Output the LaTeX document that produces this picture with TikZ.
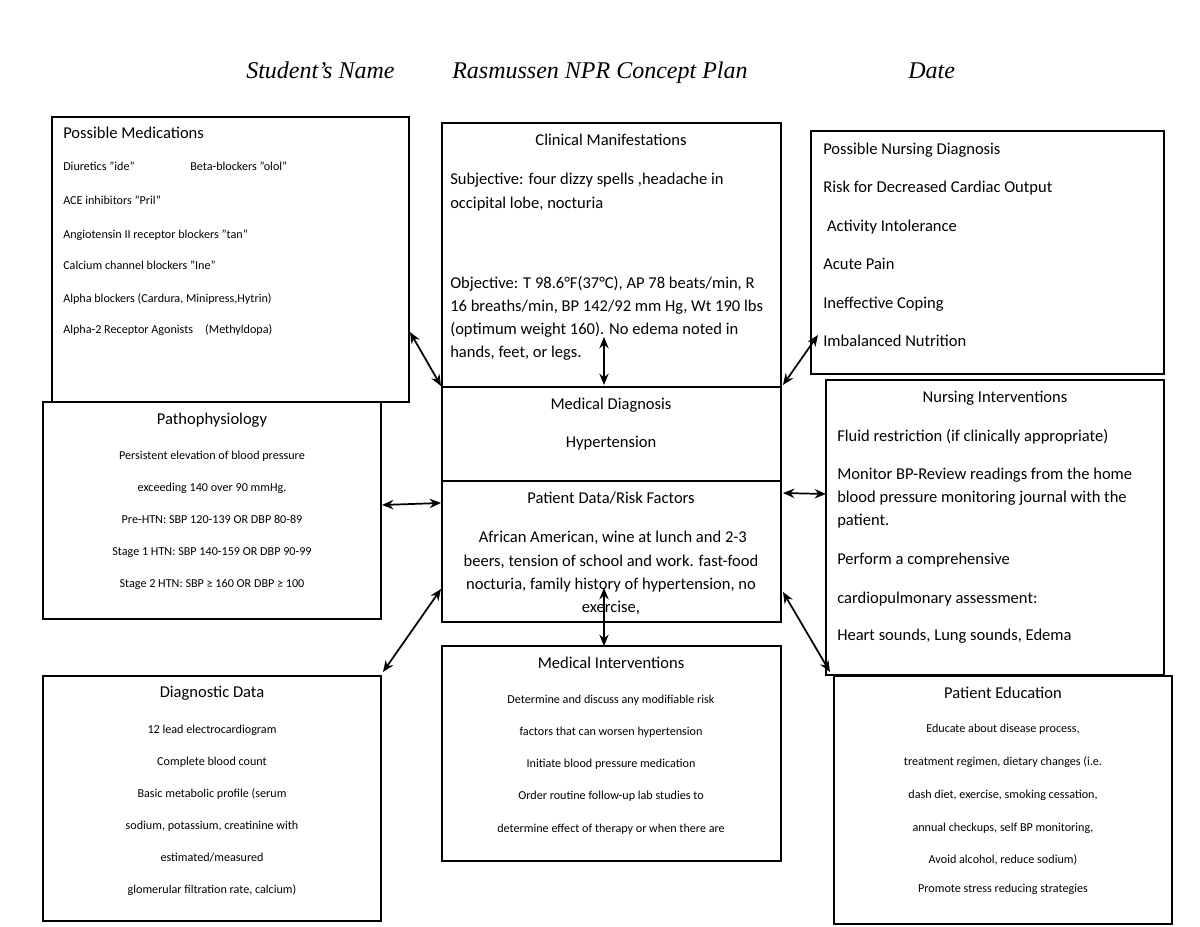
\documentclass[tikz,border=0pt]{standalone}
\usepackage{fontspec}
\setmainfont{Carlito}
\newfontfamily\headfont{Liberation Serif}
\usetikzlibrary{fit,arrows.meta}
\begin{document}
\begin{tikzpicture}[x=0.75pt,y=-0.75pt,
  box/.style={draw,line width=1.4pt,inner sep=0pt},
  txt/.style={inner sep=0pt,yshift=-1.6pt},
  ttl/.style={txt,font=\fontsize{12.4}{14}\selectfont,anchor=mid},
  bdl/.style={txt,font=\fontsize{12.4}{14}\selectfont,anchor=mid west},
  bdc/.style={txt,font=\fontsize{12.4}{14}\selectfont,anchor=mid},
  sml/.style={txt,font=\fontsize{9.1}{10}\selectfont,anchor=mid west},
  smc/.style={txt,font=\fontsize{9.1}{10}\selectfont,anchor=mid},
  hd/.style={inner sep=0pt,yshift=-3pt,font=\headfont\itshape\fontsize{18}{20}\selectfont,anchor=mid west},
  link/.style={line width=1.3pt,{Stealth[length=8.5pt,width=7pt]}-{Stealth[length=8.5pt,width=7pt]}}]
\useasboundingbox (0,0) rectangle (1200,927);
\fill[white] (0,0) rectangle (1200,927);

% header
\node[hd] (h1) at (246,71) {Student’s Name};
\node[hd] (h2) at (452,71) {Rasmussen NPR Concept Plan};
\node[hd] (h3) at (908,71) {Date};

% boxes
\node[box,fit={(52,117)(409,402)}] (meds) {};
\node[box,fit={(43,402)(381,619)}] (patho) {};
\node[box,fit={(43,676)(381,921)}] (diag) {};
\node[box,fit={(442,123)(781,387)}] (clin) {};
\node[box,fit={(442,387)(781,481)}] (mdx) {};
\node[box,fit={(442,481)(781,622)}] (pdata) {};
\node[box,fit={(442,646)(781,861)}] (mint) {};
\node[box,fit={(811,131)(1164,374)}] (ndx) {};
\node[box,fit={(826,380)(1164,675)}] (nint) {};
\node[box,fit={(834,676)(1172,924)}] (ped) {};

% Possible Medications
\node[bdl] (m0) at (63,133) {Possible Medications};
\node[sml] (m1) at (63,165) {Diuretics "ide”};
\node[sml] (m1b) at (190,165) {Beta-blockers "olol”};
\node[sml] (m2) at (63,199) {ACE inhibitors "Pril”};
\node[sml] (m3) at (63,233) {Angiotensin II receptor blockers "tan”};
\node[sml] (m4) at (63,264) {Calcium channel blockers "Ine”};
\node[sml] (m5) at (63,297) {Alpha blockers (Cardura, Minipress,Hytrin)};
\node[sml] (m6) at (63,328) {Alpha-2 Receptor Agonists\quad(Methyldopa)};

% Pathophysiology
\node[ttl] (p0) at (212,419) {Pathophysiology};
\node[smc] (p1) at (212,454) {Persistent elevation of blood pressure};
\node[smc] (p2) at (212,486) {exceeding 140 over 90 mmHg.};
\node[smc] (p3) at (212,518) {Pre-HTN: SBP 120-139 OR DBP 80-89};
\node[smc] (p4) at (212,550) {Stage 1 HTN: SBP 140-159 OR DBP 90-99};
\node[smc] (p5) at (212,582) {Stage 2 HTN: SBP ≥ 160 OR DBP ≥ 100};

% Diagnostic Data
\node[ttl] (d0) at (212,692) {Diagnostic Data};
\node[smc] (d1) at (212,728) {12 lead electrocardiogram};
\node[smc] (d2) at (212,760) {Complete blood count};
\node[smc] (d3) at (212,792) {Basic metabolic profile (serum};
\node[smc] (d4) at (212,824) {sodium, potassium, creatinine with};
\node[smc] (d5) at (212,856) {estimated/measured};
\node[smc] (d6) at (212,888) {glomerular filtration rate, calcium)};

% Clinical Manifestations
\node[ttl] (c0) at (611,140) {Clinical Manifestations};
\node[bdl] (c1) at (450,179) {Subjective: four dizzy spells ,headache in};
\node[bdl] (c2) at (450,203) {occipital lobe, nocturia};
\node[bdl] (c3) at (450,283) {Objective: T 98.6°F(37°C), AP 78 beats/min, R};
\node[bdl] (c4) at (450,306) {16 breaths/min, BP 142/92 mm Hg, Wt 190 lbs};
\node[bdl] (c5) at (450,329) {(optimum weight 160). No edema noted in};
\node[bdl] (c6) at (450,352) {hands, feet, or legs.};

% Medical Diagnosis
\node[ttl] (x0) at (611,404) {Medical Diagnosis};
\node[bdc] (x1) at (611,442) {Hypertension};

% Patient Data
\node[ttl] (r0) at (611,498) {Patient Data/Risk Factors};
\node[bdc] (r1) at (611,537) {\ African American, wine at lunch and 2-3};
\node[bdc] (r2) at (611,561) {beers, tension of school and work. fast-food};
\node[bdc] (r3) at (611,584) {nocturia, family history of hypertension, no};
\node[bdc] (r4) at (611,607) {exercise,};

% Medical Interventions
\node[ttl] (i0) at (611,663) {Medical Interventions};
\node[smc] (i1) at (611,698) {Determine and discuss any modifiable risk};
\node[smc] (i2) at (611,730) {factors that can worsen hypertension};
\node[smc] (i3) at (611,762) {Initiate blood pressure medication};
\node[smc] (i4) at (611,794) {Order routine follow-up lab studies to};
\node[smc] (i5) at (611,827) {determine effect of therapy or when there are};

% Possible Nursing Diagnosis
\node[bdl] (n0) at (823,149) {Possible Nursing Diagnosis};
\node[bdl] (n1) at (823,187) {Risk for Decreased Cardiac Output};
\node[bdl] (n2) at (823,226) {\ Activity Intolerance};
\node[bdl] (n3) at (823,264) {Acute Pain};
\node[bdl] (n4) at (823,303) {Ineffective Coping};
\node[bdl] (n5) at (823,341) {Imbalanced Nutrition};

% Nursing Interventions
\node[ttl] (v0) at (995,397) {Nursing Interventions};
\node[bdl] (v1) at (837,436) {Fluid restriction (if clinically appropriate)};
\node[bdl] (v2) at (837,474) {Monitor BP-Review readings from the home};
\node[bdl] (v3) at (837,497) {blood pressure monitoring journal with the};
\node[bdl] (v4) at (837,520) {patient.};
\node[bdl] (v5) at (837,559) {Perform a comprehensive};
\node[bdl] (v6) at (837,598) {cardiopulmonary assessment:};
\node[bdl] (v7) at (837,635) {Heart sounds, Lung sounds, Edema};

% Patient Education
\node[ttl] (e0) at (1003,693) {Patient Education};
\node[smc] (e1) at (1003,727) {Educate about disease process,};
\node[smc] (e2) at (1003,760) {treatment regimen, dietary changes (i.e.};
\node[smc] (e3) at (1003,793) {dash diet, exercise, smoking cessation,};
\node[smc] (e4) at (1003,826) {annual checkups, self BP monitoring,};
\node[smc] (e5) at (1003,858) {Avoid alcohol, reduce sodium)};
\node[smc] (e6) at (1003,887) {Promote stress reducing strategies};

% connector end points
\coordinate (a1) at (410,332);
\coordinate (a2) at (441,386);
\coordinate (b1) at (382,505);
\coordinate (b2) at (441,503);
\coordinate (g1) at (383,672);
\coordinate (g2) at (441,589);
\coordinate (k1) at (604,337);
\coordinate (k2) at (604,385);
\coordinate (l1) at (604,588);
\coordinate (l2) at (604,646);
\coordinate (q1) at (818,335);
\coordinate (q2) at (783,385);
\coordinate (s1) at (783,493);
\coordinate (s2) at (826,494);
\coordinate (t1) at (783,592);
\coordinate (t2) at (830,672);

\draw[link] (a1) -- (a2);
\draw[link] (b1) -- (b2);
\draw[link] (g1) -- (g2);
\draw[link] (k1) -- (k2);
\draw[link] (l1) -- (l2);
\draw[link] (q1) -- (q2);
\draw[link] (s1) -- (s2);
\draw[link] (t1) -- (t2);
\end{tikzpicture}
\end{document}
